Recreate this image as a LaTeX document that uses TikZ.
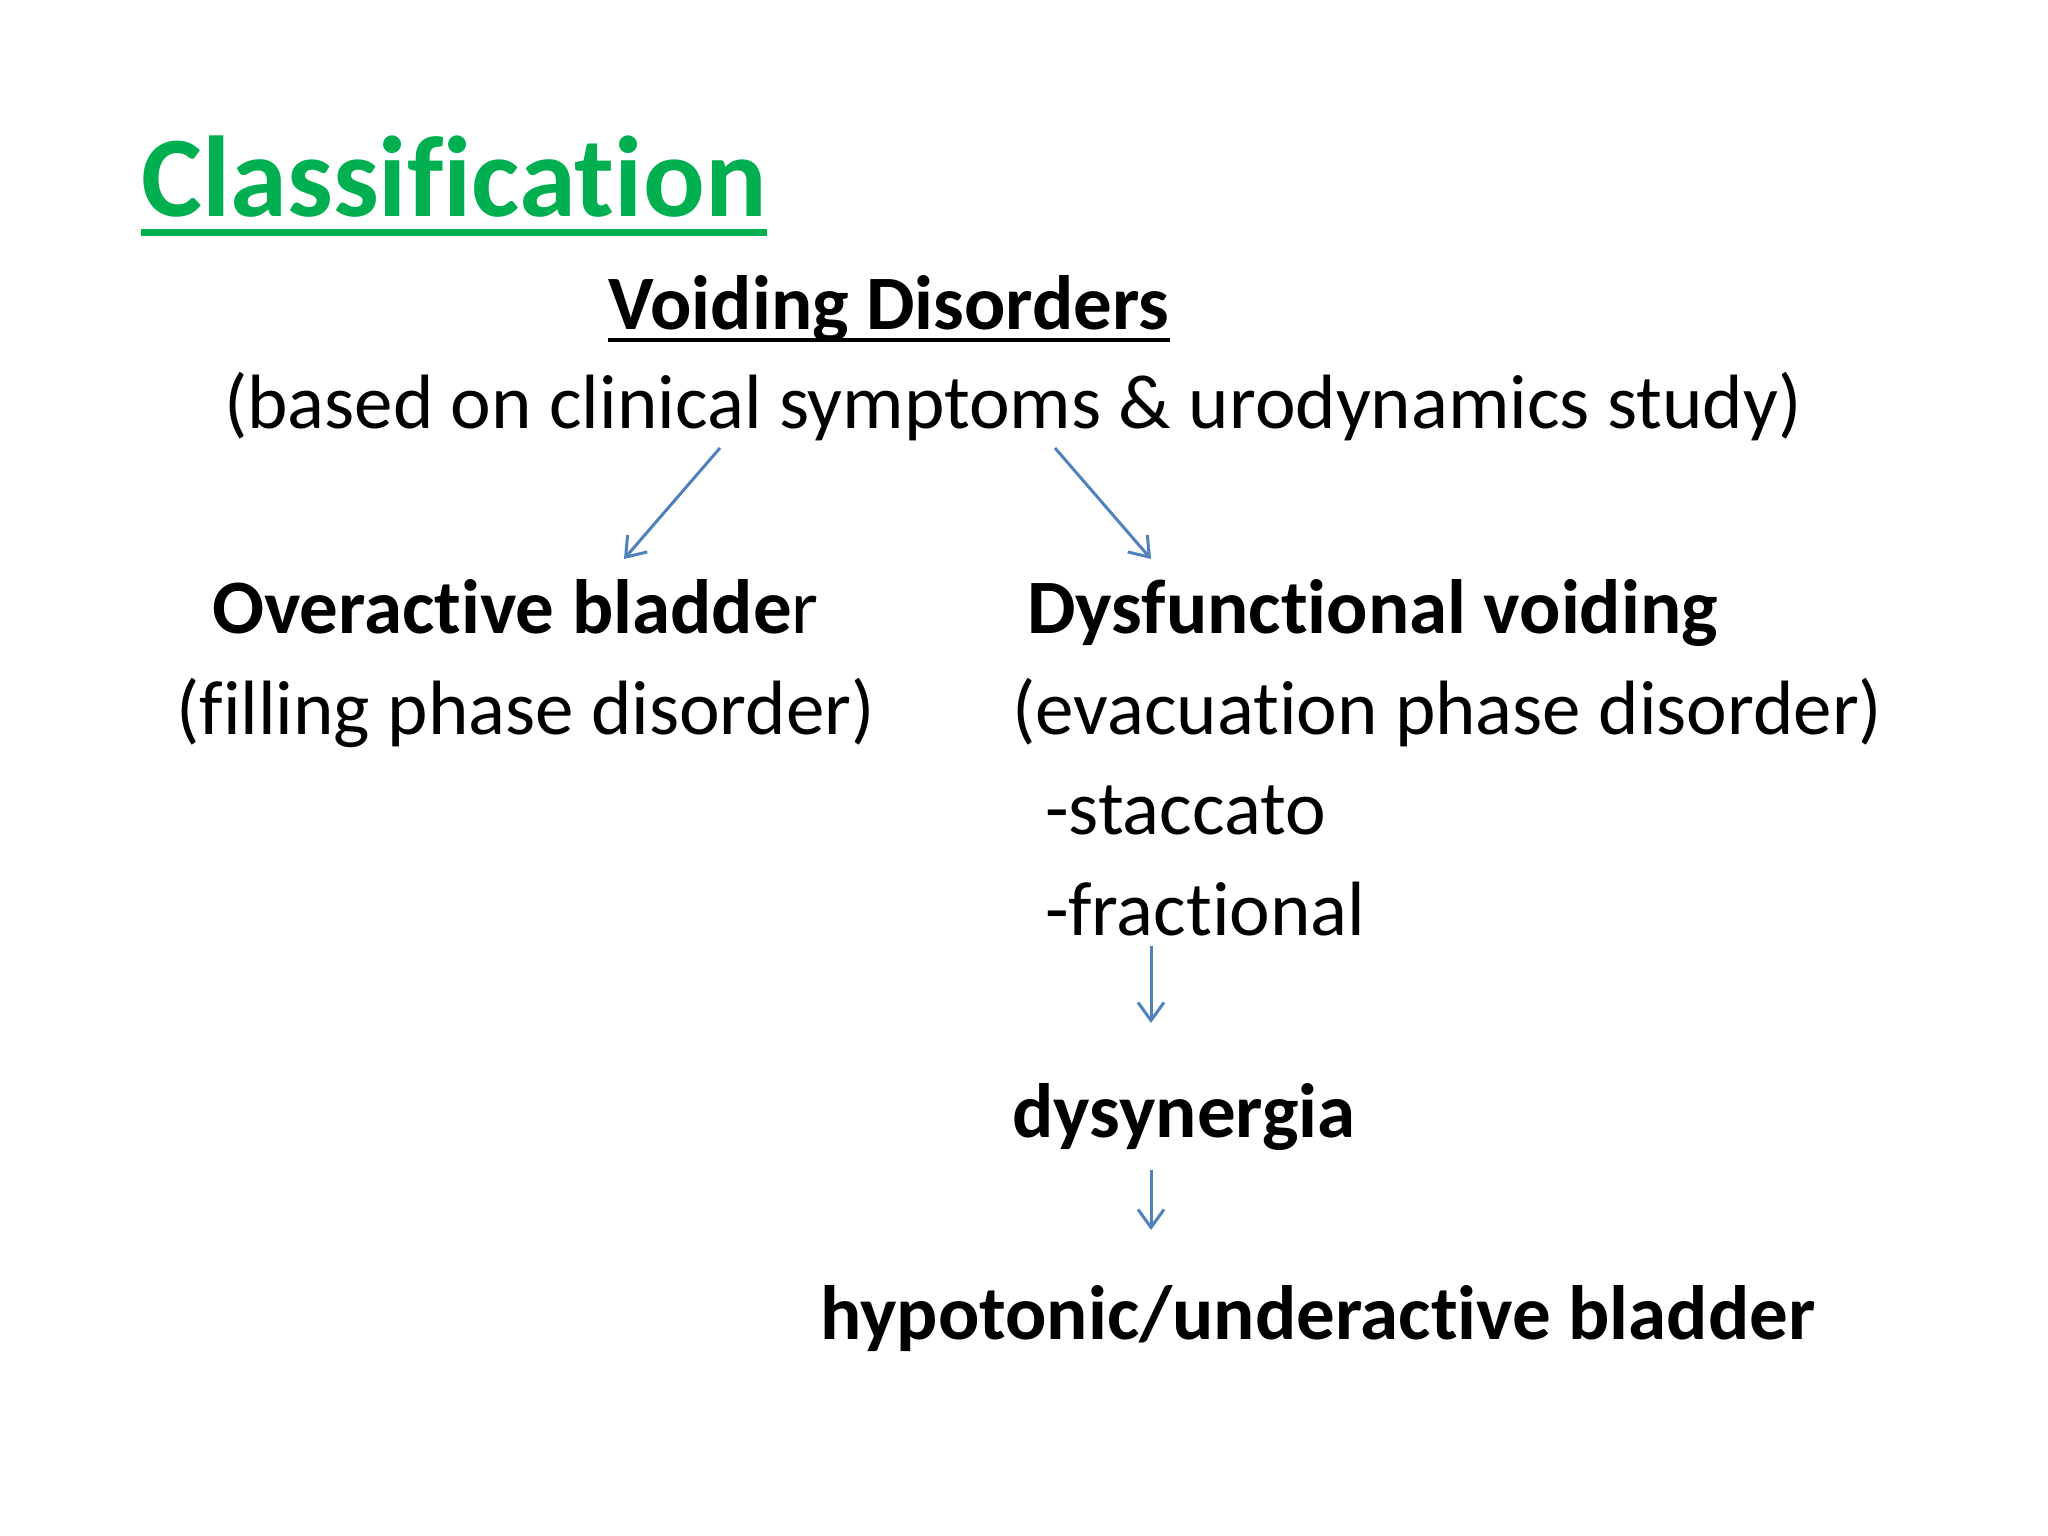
\documentclass[tikz,border=0pt]{standalone}
\usepackage{fontspec}
\setmainfont{Carlito}[Ligatures=NoCommon]
\usepackage{tikz}
\usetikzlibrary{arrows.meta}
\definecolor{titlegreen}{RGB}{0,176,80}
\definecolor{arrowblue}{RGB}{79,129,189}

\begin{document}
\begin{tikzpicture}[x=1pt, y=-1pt,
  every node/.style={inner sep=0pt, anchor=base west, font=\fontsize{77}{92}\selectfont},
  flow/.style={draw=arrowblue, line width=3pt, -{Straight Barb[length=18pt,width=26pt,line width=3pt]}}]
\useasboundingbox (0,0) rectangle (2048,1536);

% Title
\node[text=titlegreen, font=\fontsize{115}{138}\selectfont\bfseries] (title) at (141,216) {Classification};
\draw[titlegreen, line width=7pt] (title.base west |- 0,232) -- (title.base east |- 0,232);

% Top
\node[font=\fontsize{77}{92}\selectfont\bfseries, anchor=base] (voiding) at (889,329) {Voiding Disorders};
\draw[line width=4pt] (voiding.base west |- 0,340) -- (voiding.base east |- 0,340);
\node[anchor=base] (based) at (1013,428) {(based on clinical symptoms \& urodynamics study)};

% Left branch
\node (overactive) at (212,633) {\bfseries Overactive bladde\mdseries r};
\node (filling) at (176,734) {(filling phase disorder)};

% Right branch
\node[font=\fontsize{77}{92}\selectfont\bfseries] (dysfunctional) at (1027,633) {Dysfunctional voiding};
\node (evacuation) at (1012,734) {(evacuation phase disorder)};
\node (staccato) at (1045,834) {-staccato};
\node (fractional) at (1045,935) {-fractional};
\node[font=\fontsize{77}{92}\selectfont\bfseries] (dysynergia) at (1012,1137) {dysynergia};
\node[font=\fontsize{77}{92}\selectfont\bfseries] (hypotonic) at (820,1339) {hypotonic/underactive bladder};

% Arrow ends
\coordinate (a1) at (720,448);
\coordinate (b1) at (624,559);
\coordinate (a2) at (1055,448);
\coordinate (b2) at (1151,559);
\coordinate (a3) at (1151,946);
\coordinate (b3) at (1151,1023);
\coordinate (a4) at (1151,1170);
\coordinate (b4) at (1151,1230);

\draw[flow] (a1) -- (b1);
\draw[flow] (a2) -- (b2);
\draw[flow] (a3) -- (b3);
\draw[flow] (a4) -- (b4);
\end{tikzpicture}
\end{document}
